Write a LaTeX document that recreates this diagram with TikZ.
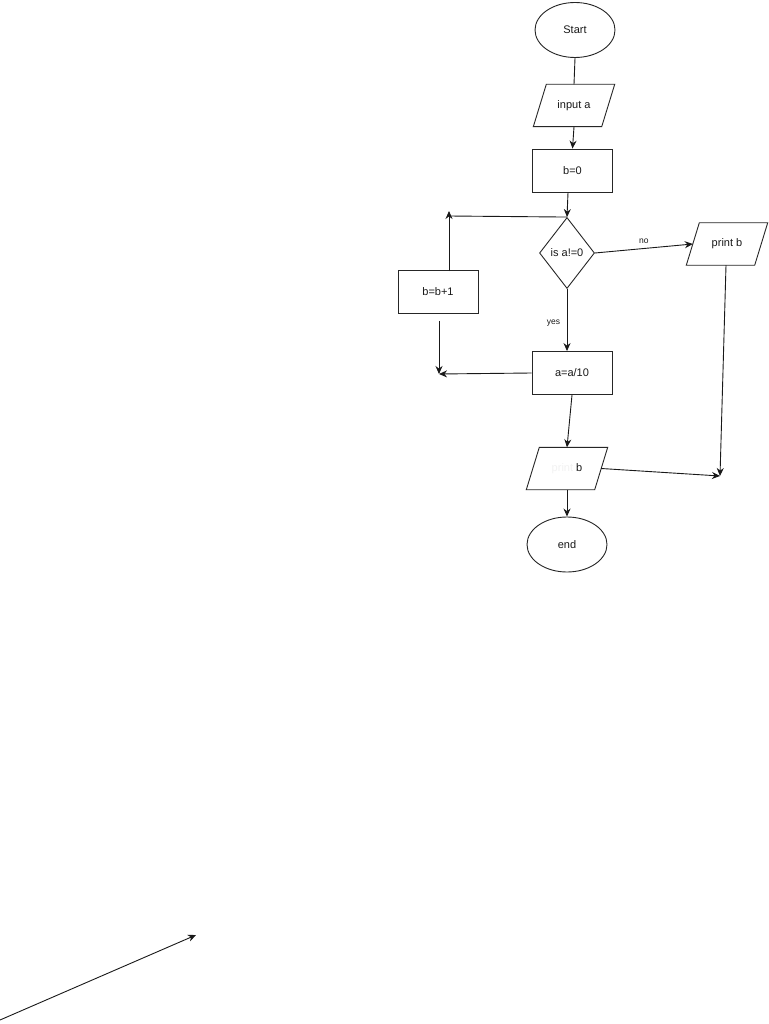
\documentclass[tikz,border=0pt]{standalone}
\usepackage{fontspec}
\setmainfont{Liberation Sans}
\usetikzlibrary{shapes.geometric,arrows.meta,calc}
\newcommand{\drawpara}[1]{\draw[flow] ([xshift=6.5]#1.north west) -- ([xshift=6.5]#1.north east) -- ([xshift=-6.5]#1.south east) -- ([xshift=-6.5]#1.south west) -- cycle;}
\begin{document}
\begin{tikzpicture}[x=1pt,y=-1pt,
 every node/.style={font=\fontsize{11}{13}\selectfont, text=black!90},
 flow/.style={draw=black!85, line width=0.9pt},
 term/.style={flow, ellipse, minimum width=80, minimum height=55, inner sep=0},
 procbox/.style={flow, rectangle, minimum width=80, minimum height=43, inner sep=0},
 iobox/.style={rectangle, minimum width=68, minimum height=42, inner sep=0},
 decision/.style={flow, diamond, minimum width=55, minimum height=71, inner sep=0},
 conn/.style={draw=black!90, line width=0.9pt},
 arr/.style={conn, -{Stealth[length=8pt,width=7pt]}},
 small/.style={font=\fontsize{8.5}{10}\selectfont}
]
\fill[white] (0,0) rectangle (768,1024);
\useasboundingbox (0,0) rectangle (768,1024);

\node[term] (start) at (575,30) {Start};
\node[iobox] (inp) at (574,105.5) {input a};
\drawpara{inp}
\node[procbox] (b0) at (572.5,170.5) {b=0};
\node[decision] (dec) at (567,253) {\makebox[0pt]{is a!=0}};
\node[procbox] (inc) at (438,292) {b=b+1};
\node[procbox] (div) at (572,373) {a=a/10};
\node[iobox] (out) at (567,468.5) {\textcolor{black!5}{print} b};
\drawpara{out}
\node[term] (end) at (567,544.5) {end};
\node[iobox] (pb) at (727,244) {print b};
\drawpara{pb}

\coordinate (loopTL) at (449,216);
\coordinate (loopTop) at (449,211);
\coordinate (lb) at (439,374);
\coordinate (rc) at (720,476);
\coordinate (fa) at (0,1020);
\coordinate (fb) at (196,935);

\draw[conn] (start.south) -- (inp.north);
\draw[arr] (inp.south) -- (b0.north);
\draw[arr] ([xshift=-4.5]b0.south) -- (dec.north);
\draw[conn] (dec.north) -- (loopTL);
\draw[arr] ([shift={(11,1)}]inc.north) -- (loopTop);
\draw[arr] ([shift={(1,7)}]inc.south) -- (lb);
\draw[arr] (div.west) -- (lb);
\draw[arr] (dec.south) -- node[small, left=3pt, pos=0.55] {yes} ([xshift=-5]div.north);
\draw[arr] (dec.east) -- node[small, above=1pt, pos=0.5] {no} (pb.west);
\draw[arr] (div.south) -- (out.north);
\draw[arr] (out.south) -- (end.north);
\draw[arr] ([xshift=-1]pb.south) -- (rc);
\draw[arr] (out.east) -- (rc);
\draw[arr] (fa) -- (fb);
\end{tikzpicture}
\end{document}
